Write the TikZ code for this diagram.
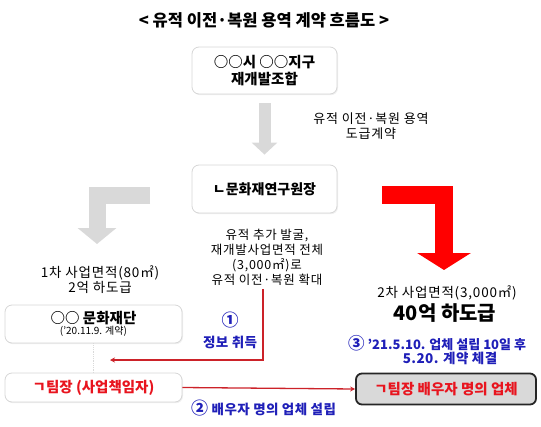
\documentclass[tikz,border=0pt]{standalone}
\usepackage{fontspec}
\setmainfont{Noto Sans CJK KR}
\usetikzlibrary{arrows.meta,shadows}
\definecolor{lgrey}{HTML}{D9D9D9}
\definecolor{bord}{HTML}{D6D6D6}
\definecolor{cred}{HTML}{E8141E}
\definecolor{lred}{HTML}{CC2229}
\definecolor{cblue}{HTML}{1F1FB8}
\definecolor{bigred}{HTML}{FF0000}
\newcommand{\wsp}{\addfontfeature{LetterSpace=6}}
\tikzset{
  box/.style={draw=bord, line width=0.8pt, rounded corners=7pt, fill=white,
    drop shadow={opacity=0.12, shadow xshift=1pt, shadow yshift=-1.2pt},
    align=center, inner sep=0pt},
  darkbox/.style={draw=black!85, line width=1.8pt, rounded corners=6pt, fill=lgrey,
    align=center, inner sep=0pt},
  txt/.style={align=center, inner sep=0pt, font=\fontsize{13}{15.5}\selectfont\wsp},
  btxt/.style={align=center, inner sep=0pt, font=\bfseries\fontsize{13.5}{15}\selectfont\addfontfeature{LetterSpace=3}, text=cblue},
  redline/.style={draw=lred, line width=1.3pt, -{Stealth[length=5pt,width=5pt]}},
}
\begin{document}
\begin{tikzpicture}[x=1pt,y=-1pt]
\useasboundingbox (0,0) rectangle (541,426);
% title
\node[inner sep=0pt, font=\bfseries\fontsize{16.5}{18}\selectfont] (title) at (264,20) {< 유적 이전·복원 용역 계약 흐름도 >};
% boxes
\node[box, minimum width=145pt, minimum height=47pt, font=\bfseries\fontsize{14.5}{17}\selectfont] (b1) at (264.5,70.5) {○○시 ○○지구\\재개발조합};
\node[box, minimum width=145pt, minimum height=48pt, font=\bfseries\fontsize{14}{17}\selectfont] (b2) at (264.5,189) {ㄴ문화재연구원장};
\node[box, minimum width=177pt, minimum height=38pt] (b3) at (93.5,324) {{\bfseries\fontsize{14.5}{15}\selectfont ○○ 문화재단}\\[-1pt]{\fontsize{10}{12}\selectfont ('20.11.9. 계약)}};
\node[box, minimum width=177pt, minimum height=29pt, text=cred, font=\bfseries\fontsize{14.5}{17}\selectfont] (b4) at (93.5,387.5) {ㄱ팀장 (사업책임자)};
\node[darkbox, minimum width=180pt, minimum height=31pt, text=cred, font=\bfseries\fontsize{14.5}{17}\selectfont] (b5) at (446,389) {ㄱ팀장 배우자 명의 업체};
% grey down arrow
\draw[lgrey, line width=12pt, -{Triangle[width=25pt,length=12pt]}] ([yshift=-9pt]b1.south) -- ([yshift=10pt]b2.north);
\node[txt] (lab1) at (371,126) {유적 이전·복원 용역\\도급계약};
% text under b2
\node[txt, font=\fontsize{12.5}{15}\selectfont\wsp] (t1) at (267,257.5) {유적 추가 발굴,\\재개발사업면적 전체\\(3,000㎡)로\\유적 이전·복원 확대};
% grey L arrow
\coordinate (g0) at (150,195);
\coordinate (g1) at (97,244);
\draw[lgrey, line width=17pt, line join=miter, -{Triangle[width=38pt,length=16pt]}] (g0) -| (g1);
% red L arrow
\coordinate (r0) at (382,195);
\coordinate (r1) at (444,270);
\draw[bigred, line width=17.5pt, line join=miter, -{Triangle[width=53pt,length=17pt]}] (r0) -| (r1);
% texts
\node[txt, font=\fontsize{13.5}{15.5}\selectfont\wsp] (t2) at (100,279.5) {1차 사업면적(80㎡)\\2억 하도급};
\node[txt, font=\fontsize{13.5}{15}\selectfont\wsp] (t3) at (447,293) {2차 사업면적(3,000㎡)};
\node[inner sep=0pt, font=\bfseries\fontsize{20}{22}\selectfont] (t4) at (445,313) {40억 하도급};
% dotted link
\draw[lgrey, line width=0.8pt, densely dotted] (b3.south) -- (b4.north);
% red connectors
\coordinate (c1) at (110,360);
\draw[redline] ([xshift=-4pt,yshift=-3pt]t1.south) |- (c1);
\draw[redline] (b4.east) -- (b5.west);
% blue labels
\node[inner sep=0pt, text=cblue, font=\bfseries\fontsize{17}{18}\selectfont] (n1) at (230,320) {①};
\node[btxt] (n1t) at (230,342) {정보 취득};
\node[btxt, anchor=west] (n2) at (191,408) {{\fontsize{17}{16}\selectfont ②} 배우자 명의 업체 설립};
\node[btxt, anchor=west, font=\bfseries\fontsize{13}{15}\selectfont] (n3) at (348,343) {{\fontsize{16.5}{16}\selectfont ③} '21.5.10. 업체 설립 10일 후};
\node[btxt] (n3b) at (450,358) {5.20. 계약 체결};
\end{tikzpicture}
\end{document}
